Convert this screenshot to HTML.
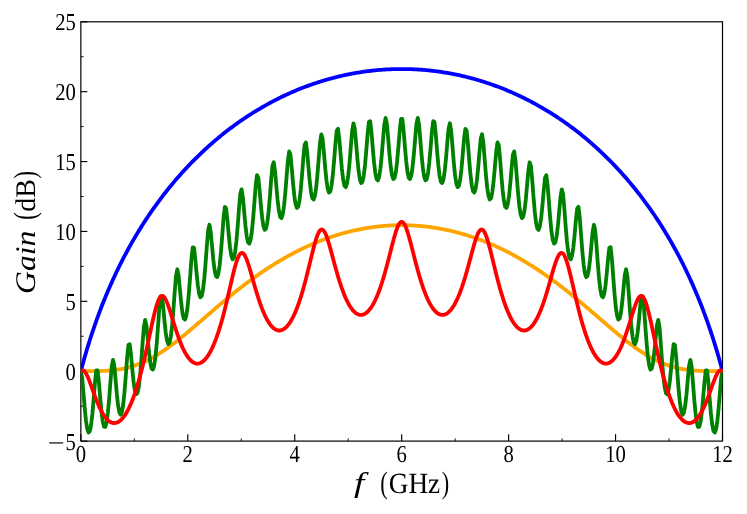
<!DOCTYPE html>
<html><head><meta charset="utf-8"><style>
html,body{margin:0;padding:0;background:#fff;}
body{width:747px;height:514px;overflow:hidden;}
svg{display:block;text-rendering:geometricPrecision;}
.tl{font-family:"Liberation Serif",serif;font-size:24.30px;fill:#000;}
.lab{font-family:"Liberation Serif",serif;font-size:28.40px;fill:#000;}
.tk{stroke:#000;stroke-width:1.15;}
.tm{stroke:#000;stroke-width:0.9;}
.c{fill:none;stroke-width:3.80px;stroke-linejoin:round;stroke-linecap:square;}
</style></head><body>
<svg width="747" height="514" viewBox="0 0 747 514">
<defs><clipPath id="ax"><rect x="80.85" y="21.80" width="641.65" height="419.30"/></clipPath></defs>
<line x1="80.85" y1="441.10" x2="80.85" y2="434.16" class="tk"/>
<line x1="187.79" y1="441.10" x2="187.79" y2="434.16" class="tk"/>
<line x1="294.73" y1="441.10" x2="294.73" y2="434.16" class="tk"/>
<line x1="401.67" y1="441.10" x2="401.67" y2="434.16" class="tk"/>
<line x1="508.62" y1="441.10" x2="508.62" y2="434.16" class="tk"/>
<line x1="615.56" y1="441.10" x2="615.56" y2="434.16" class="tk"/>
<line x1="722.50" y1="441.10" x2="722.50" y2="434.16" class="tk"/>
<line x1="134.32" y1="441.10" x2="134.32" y2="438.32" class="tm"/>
<line x1="241.26" y1="441.10" x2="241.26" y2="438.32" class="tm"/>
<line x1="348.20" y1="441.10" x2="348.20" y2="438.32" class="tm"/>
<line x1="455.15" y1="441.10" x2="455.15" y2="438.32" class="tm"/>
<line x1="562.09" y1="441.10" x2="562.09" y2="438.32" class="tm"/>
<line x1="669.03" y1="441.10" x2="669.03" y2="438.32" class="tm"/>
<line x1="80.85" y1="441.10" x2="87.34" y2="441.10" class="tk"/>
<line x1="80.85" y1="371.22" x2="87.34" y2="371.22" class="tk"/>
<line x1="80.85" y1="301.33" x2="87.34" y2="301.33" class="tk"/>
<line x1="80.85" y1="231.45" x2="87.34" y2="231.45" class="tk"/>
<line x1="80.85" y1="161.57" x2="87.34" y2="161.57" class="tk"/>
<line x1="80.85" y1="91.68" x2="87.34" y2="91.68" class="tk"/>
<line x1="80.85" y1="21.80" x2="87.34" y2="21.80" class="tk"/>
<line x1="80.85" y1="406.16" x2="83.63" y2="406.16" class="tm"/>
<line x1="80.85" y1="336.28" x2="83.63" y2="336.28" class="tm"/>
<line x1="80.85" y1="266.39" x2="83.63" y2="266.39" class="tm"/>
<line x1="80.85" y1="196.51" x2="83.63" y2="196.51" class="tm"/>
<line x1="80.85" y1="126.62" x2="83.63" y2="126.62" class="tm"/>
<line x1="80.85" y1="56.74" x2="83.63" y2="56.74" class="tm"/>
<rect x="80.85" y="21.80" width="641.65" height="419.30" fill="none" stroke="#000" stroke-width="1.20"/>
<g clip-path="url(#ax)">
<path class="c" stroke="#0000ff" d="M80.85,371.22 L82.14,366.37 L83.42,361.66 L84.71,357.09 L85.99,352.65 L87.28,348.33 L88.57,344.11 L89.85,340.01 L91.14,336.00 L92.42,332.09 L93.71,328.28 L94.99,324.54 L96.28,320.89 L97.57,317.32 L98.85,313.83 L100.14,310.41 L101.42,307.05 L102.71,303.76 L104.00,300.54 L105.28,297.38 L106.57,294.27 L107.85,291.22 L109.14,288.23 L110.43,285.29 L111.71,282.40 L113.00,279.56 L114.28,276.76 L115.57,274.02 L116.85,271.31 L118.14,268.65 L119.43,266.03 L120.71,263.45 L122.00,260.92 L123.28,258.41 L124.57,255.95 L125.86,253.52 L127.14,251.13 L128.43,248.77 L129.71,246.45 L131.00,244.15 L132.28,241.89 L133.57,239.66 L134.86,237.46 L136.14,235.29 L137.43,233.14 L138.71,231.03 L140.00,228.94 L141.29,226.88 L142.57,224.84 L143.86,222.84 L145.14,220.85 L146.43,218.89 L147.72,216.95 L149.00,215.04 L150.29,213.15 L151.57,211.29 L152.86,209.44 L154.14,207.62 L155.43,205.82 L156.72,204.04 L158.00,202.27 L159.29,200.53 L160.57,198.81 L161.86,197.11 L163.15,195.43 L164.43,193.77 L165.72,192.12 L167.00,190.50 L168.29,188.89 L169.58,187.30 L170.86,185.73 L172.15,184.17 L173.43,182.63 L174.72,181.11 L176.00,179.60 L177.29,178.11 L178.58,176.63 L179.86,175.18 L181.15,173.73 L182.43,172.30 L183.72,170.89 L185.01,169.49 L186.29,168.11 L187.58,166.74 L188.86,165.38 L190.15,164.04 L191.43,162.71 L192.72,161.40 L194.01,160.10 L195.29,158.81 L196.58,157.54 L197.86,156.28 L199.15,155.03 L200.44,153.79 L201.72,152.57 L203.01,151.36 L204.29,150.16 L205.58,148.98 L206.87,147.80 L208.15,146.64 L209.44,145.49 L210.72,144.35 L212.01,143.23 L213.29,142.11 L214.58,141.01 L215.87,139.91 L217.15,138.83 L218.44,137.76 L219.72,136.70 L221.01,135.65 L222.30,134.61 L223.58,133.59 L224.87,132.57 L226.15,131.56 L227.44,130.56 L228.73,129.58 L230.01,128.60 L231.30,127.64 L232.58,126.68 L233.87,125.73 L235.15,124.80 L236.44,123.87 L237.73,122.95 L239.01,122.05 L240.30,121.15 L241.58,120.26 L242.87,119.38 L244.16,118.51 L245.44,117.65 L246.73,116.80 L248.01,115.95 L249.30,115.12 L250.59,114.30 L251.87,113.48 L253.16,112.67 L254.44,111.88 L255.73,111.09 L257.01,110.31 L258.30,109.53 L259.59,108.77 L260.87,108.01 L262.16,107.27 L263.44,106.53 L264.73,105.80 L266.02,105.08 L267.30,104.36 L268.59,103.66 L269.87,102.96 L271.16,102.27 L272.44,101.59 L273.73,100.92 L275.02,100.25 L276.30,99.60 L277.59,98.95 L278.87,98.31 L280.16,97.67 L281.45,97.05 L282.73,96.43 L284.02,95.82 L285.30,95.21 L286.59,94.62 L287.88,94.03 L289.16,93.45 L290.45,92.88 L291.73,92.31 L293.02,91.75 L294.30,91.20 L295.59,90.66 L296.88,90.12 L298.16,89.60 L299.45,89.07 L300.73,88.56 L302.02,88.05 L303.31,87.55 L304.59,87.06 L305.88,86.58 L307.16,86.10 L308.45,85.63 L309.74,85.16 L311.02,84.70 L312.31,84.25 L313.59,83.81 L314.88,83.37 L316.16,82.94 L317.45,82.52 L318.74,82.11 L320.02,81.70 L321.31,81.29 L322.59,80.90 L323.88,80.51 L325.17,80.13 L326.45,79.75 L327.74,79.39 L329.02,79.02 L330.31,78.67 L331.59,78.32 L332.88,77.98 L334.17,77.64 L335.45,77.32 L336.74,76.99 L338.02,76.68 L339.31,76.37 L340.60,76.07 L341.88,75.77 L343.17,75.48 L344.45,75.20 L345.74,74.92 L347.03,74.65 L348.31,74.39 L349.60,74.13 L350.88,73.88 L352.17,73.64 L353.45,73.40 L354.74,73.17 L356.03,72.95 L357.31,72.73 L358.60,72.51 L359.88,72.31 L361.17,72.11 L362.46,71.92 L363.74,71.73 L365.03,71.55 L366.31,71.38 L367.60,71.21 L368.89,71.05 L370.17,70.89 L371.46,70.74 L372.74,70.60 L374.03,70.46 L375.31,70.33 L376.60,70.21 L377.89,70.09 L379.17,69.98 L380.46,69.87 L381.74,69.77 L383.03,69.68 L384.32,69.59 L385.60,69.51 L386.89,69.44 L388.17,69.37 L389.46,69.31 L390.75,69.25 L392.03,69.20 L393.32,69.16 L394.60,69.12 L395.89,69.09 L397.17,69.07 L398.46,69.05 L399.75,69.04 L401.03,69.03 L402.32,69.03 L403.60,69.04 L404.89,69.05 L406.18,69.07 L407.46,69.09 L408.75,69.12 L410.03,69.16 L411.32,69.20 L412.60,69.25 L413.89,69.31 L415.18,69.37 L416.46,69.44 L417.75,69.51 L419.03,69.59 L420.32,69.68 L421.61,69.77 L422.89,69.87 L424.18,69.98 L425.46,70.09 L426.75,70.21 L428.04,70.33 L429.32,70.46 L430.61,70.60 L431.89,70.74 L433.18,70.89 L434.46,71.05 L435.75,71.21 L437.04,71.38 L438.32,71.55 L439.61,71.73 L440.89,71.92 L442.18,72.11 L443.47,72.31 L444.75,72.51 L446.04,72.73 L447.32,72.95 L448.61,73.17 L449.90,73.40 L451.18,73.64 L452.47,73.88 L453.75,74.13 L455.04,74.39 L456.32,74.65 L457.61,74.92 L458.90,75.20 L460.18,75.48 L461.47,75.77 L462.75,76.07 L464.04,76.37 L465.33,76.68 L466.61,76.99 L467.90,77.32 L469.18,77.64 L470.47,77.98 L471.76,78.32 L473.04,78.67 L474.33,79.02 L475.61,79.39 L476.90,79.75 L478.18,80.13 L479.47,80.51 L480.76,80.90 L482.04,81.29 L483.33,81.70 L484.61,82.11 L485.90,82.52 L487.19,82.94 L488.47,83.37 L489.76,83.81 L491.04,84.25 L492.33,84.70 L493.61,85.16 L494.90,85.63 L496.19,86.10 L497.47,86.58 L498.76,87.06 L500.04,87.55 L501.33,88.05 L502.62,88.56 L503.90,89.07 L505.19,89.60 L506.47,90.12 L507.76,90.66 L509.05,91.20 L510.33,91.75 L511.62,92.31 L512.90,92.88 L514.19,93.45 L515.47,94.03 L516.76,94.62 L518.05,95.21 L519.33,95.82 L520.62,96.43 L521.90,97.05 L523.19,97.67 L524.48,98.31 L525.76,98.95 L527.05,99.60 L528.33,100.25 L529.62,100.92 L530.91,101.59 L532.19,102.27 L533.48,102.96 L534.76,103.66 L536.05,104.36 L537.33,105.08 L538.62,105.80 L539.91,106.53 L541.19,107.27 L542.48,108.01 L543.76,108.77 L545.05,109.53 L546.34,110.31 L547.62,111.09 L548.91,111.88 L550.19,112.67 L551.48,113.48 L552.76,114.30 L554.05,115.12 L555.34,115.95 L556.62,116.80 L557.91,117.65 L559.19,118.51 L560.48,119.38 L561.77,120.26 L563.05,121.15 L564.34,122.05 L565.62,122.95 L566.91,123.87 L568.20,124.80 L569.48,125.73 L570.77,126.68 L572.05,127.64 L573.34,128.60 L574.62,129.58 L575.91,130.56 L577.20,131.56 L578.48,132.57 L579.77,133.59 L581.05,134.61 L582.34,135.65 L583.63,136.70 L584.91,137.76 L586.20,138.83 L587.48,139.91 L588.77,141.01 L590.06,142.11 L591.34,143.23 L592.63,144.35 L593.91,145.49 L595.20,146.64 L596.48,147.80 L597.77,148.98 L599.06,150.16 L600.34,151.36 L601.63,152.57 L602.91,153.79 L604.20,155.03 L605.49,156.28 L606.77,157.54 L608.06,158.81 L609.34,160.10 L610.63,161.40 L611.92,162.71 L613.20,164.04 L614.49,165.38 L615.77,166.74 L617.06,168.11 L618.34,169.49 L619.63,170.89 L620.92,172.30 L622.20,173.73 L623.49,175.18 L624.77,176.63 L626.06,178.11 L627.35,179.60 L628.63,181.11 L629.92,182.63 L631.20,184.17 L632.49,185.73 L633.77,187.30 L635.06,188.89 L636.35,190.50 L637.63,192.12 L638.92,193.77 L640.20,195.43 L641.49,197.11 L642.78,198.81 L644.06,200.53 L645.35,202.27 L646.63,204.04 L647.92,205.82 L649.21,207.62 L650.49,209.44 L651.78,211.29 L653.06,213.15 L654.35,215.04 L655.63,216.95 L656.92,218.89 L658.21,220.85 L659.49,222.84 L660.78,224.84 L662.06,226.88 L663.35,228.94 L664.64,231.03 L665.92,233.14 L667.21,235.29 L668.49,237.46 L669.78,239.66 L671.07,241.89 L672.35,244.15 L673.64,246.45 L674.92,248.77 L676.21,251.13 L677.49,253.52 L678.78,255.95 L680.07,258.41 L681.35,260.92 L682.64,263.45 L683.92,266.03 L685.21,268.65 L686.50,271.31 L687.78,274.02 L689.07,276.76 L690.35,279.56 L691.64,282.40 L692.92,285.29 L694.21,288.23 L695.50,291.22 L696.78,294.27 L698.07,297.38 L699.35,300.54 L700.64,303.76 L701.93,307.05 L703.21,310.41 L704.50,313.83 L705.78,317.32 L707.07,320.89 L708.36,324.54 L709.64,328.28 L710.93,332.09 L712.21,336.00 L713.50,340.01 L714.78,344.11 L716.07,348.33 L717.36,352.65 L718.64,357.09 L719.93,361.66 L721.21,366.37 L722.50,371.22"/>
<path class="c" stroke="#ffa500" d="M80.85,371.22 L82.14,371.22 L83.42,371.22 L84.71,371.22 L85.99,371.22 L87.28,371.22 L88.57,371.21 L89.85,371.21 L91.14,371.20 L92.42,371.19 L93.71,371.18 L94.99,371.16 L96.28,371.14 L97.57,371.11 L98.85,371.08 L100.14,371.04 L101.42,370.99 L102.71,370.93 L104.00,370.87 L105.28,370.80 L106.57,370.72 L107.85,370.63 L109.14,370.53 L110.43,370.41 L111.71,370.29 L113.00,370.15 L114.28,370.00 L115.57,369.84 L116.85,369.66 L118.14,369.47 L119.43,369.26 L120.71,369.04 L122.00,368.80 L123.28,368.54 L124.57,368.27 L125.86,367.97 L127.14,367.66 L128.43,367.34 L129.71,366.99 L131.00,366.63 L132.28,366.24 L133.57,365.84 L134.86,365.41 L136.14,364.97 L137.43,364.50 L138.71,364.02 L140.00,363.51 L141.29,362.98 L142.57,362.44 L143.86,361.87 L145.14,361.28 L146.43,360.67 L147.72,360.04 L149.00,359.40 L150.29,358.73 L151.57,358.04 L152.86,357.33 L154.14,356.60 L155.43,355.85 L156.72,355.09 L158.00,354.30 L159.29,353.50 L160.57,352.68 L161.86,351.84 L163.15,350.99 L164.43,350.12 L165.72,349.23 L167.00,348.33 L168.29,347.42 L169.58,346.49 L170.86,345.54 L172.15,344.59 L173.43,343.62 L174.72,342.64 L176.00,341.64 L177.29,340.64 L178.58,339.63 L179.86,338.60 L181.15,337.57 L182.43,336.53 L183.72,335.48 L185.01,334.42 L186.29,333.35 L187.58,332.28 L188.86,331.20 L190.15,330.12 L191.43,329.03 L192.72,327.94 L194.01,326.85 L195.29,325.75 L196.58,324.64 L197.86,323.54 L199.15,322.43 L200.44,321.32 L201.72,320.21 L203.01,319.10 L204.29,317.99 L205.58,316.88 L206.87,315.77 L208.15,314.66 L209.44,313.55 L210.72,312.44 L212.01,311.34 L213.29,310.23 L214.58,309.13 L215.87,308.03 L217.15,306.94 L218.44,305.85 L219.72,304.76 L221.01,303.67 L222.30,302.59 L223.58,301.52 L224.87,300.44 L226.15,299.38 L227.44,298.31 L228.73,297.26 L230.01,296.20 L231.30,295.16 L232.58,294.12 L233.87,293.08 L235.15,292.05 L236.44,291.03 L237.73,290.01 L239.01,289.00 L240.30,288.00 L241.58,287.00 L242.87,286.01 L244.16,285.03 L245.44,284.05 L246.73,283.08 L248.01,282.12 L249.30,281.17 L250.59,280.22 L251.87,279.28 L253.16,278.35 L254.44,277.42 L255.73,276.50 L257.01,275.59 L258.30,274.69 L259.59,273.80 L260.87,272.91 L262.16,272.03 L263.44,271.16 L264.73,270.30 L266.02,269.44 L267.30,268.60 L268.59,267.76 L269.87,266.93 L271.16,266.11 L272.44,265.29 L273.73,264.49 L275.02,263.69 L276.30,262.90 L277.59,262.12 L278.87,261.35 L280.16,260.58 L281.45,259.82 L282.73,259.08 L284.02,258.34 L285.30,257.61 L286.59,256.88 L287.88,256.17 L289.16,255.46 L290.45,254.76 L291.73,254.07 L293.02,253.39 L294.30,252.72 L295.59,252.06 L296.88,251.40 L298.16,250.75 L299.45,250.11 L300.73,249.48 L302.02,248.86 L303.31,248.24 L304.59,247.64 L305.88,247.04 L307.16,246.45 L308.45,245.87 L309.74,245.29 L311.02,244.73 L312.31,244.17 L313.59,243.62 L314.88,243.08 L316.16,242.55 L317.45,242.03 L318.74,241.51 L320.02,241.01 L321.31,240.51 L322.59,240.02 L323.88,239.53 L325.17,239.06 L326.45,238.59 L327.74,238.14 L329.02,237.69 L330.31,237.24 L331.59,236.81 L332.88,236.38 L334.17,235.97 L335.45,235.56 L336.74,235.16 L338.02,234.76 L339.31,234.38 L340.60,234.00 L341.88,233.63 L343.17,233.27 L344.45,232.92 L345.74,232.57 L347.03,232.23 L348.31,231.91 L349.60,231.58 L350.88,231.27 L352.17,230.97 L353.45,230.67 L354.74,230.38 L356.03,230.10 L357.31,229.82 L358.60,229.56 L359.88,229.30 L361.17,229.05 L362.46,228.81 L363.74,228.58 L365.03,228.35 L366.31,228.13 L367.60,227.92 L368.89,227.72 L370.17,227.52 L371.46,227.34 L372.74,227.16 L374.03,226.99 L375.31,226.82 L376.60,226.67 L377.89,226.52 L379.17,226.38 L380.46,226.25 L381.74,226.12 L383.03,226.01 L384.32,225.90 L385.60,225.80 L386.89,225.70 L388.17,225.62 L389.46,225.54 L390.75,225.47 L392.03,225.41 L393.32,225.35 L394.60,225.31 L395.89,225.27 L397.17,225.24 L398.46,225.22 L399.75,225.20 L401.03,225.19 L402.32,225.19 L403.60,225.20 L404.89,225.22 L406.18,225.24 L407.46,225.27 L408.75,225.31 L410.03,225.35 L411.32,225.41 L412.60,225.47 L413.89,225.54 L415.18,225.62 L416.46,225.70 L417.75,225.80 L419.03,225.90 L420.32,226.01 L421.61,226.12 L422.89,226.25 L424.18,226.38 L425.46,226.52 L426.75,226.67 L428.04,226.82 L429.32,226.99 L430.61,227.16 L431.89,227.34 L433.18,227.52 L434.46,227.72 L435.75,227.92 L437.04,228.13 L438.32,228.35 L439.61,228.58 L440.89,228.81 L442.18,229.05 L443.47,229.30 L444.75,229.56 L446.04,229.82 L447.32,230.10 L448.61,230.38 L449.90,230.67 L451.18,230.97 L452.47,231.27 L453.75,231.58 L455.04,231.91 L456.32,232.23 L457.61,232.57 L458.90,232.92 L460.18,233.27 L461.47,233.63 L462.75,234.00 L464.04,234.38 L465.33,234.76 L466.61,235.16 L467.90,235.56 L469.18,235.97 L470.47,236.38 L471.76,236.81 L473.04,237.24 L474.33,237.69 L475.61,238.14 L476.90,238.59 L478.18,239.06 L479.47,239.53 L480.76,240.02 L482.04,240.51 L483.33,241.01 L484.61,241.51 L485.90,242.03 L487.19,242.55 L488.47,243.08 L489.76,243.62 L491.04,244.17 L492.33,244.73 L493.61,245.29 L494.90,245.87 L496.19,246.45 L497.47,247.04 L498.76,247.64 L500.04,248.24 L501.33,248.86 L502.62,249.48 L503.90,250.11 L505.19,250.75 L506.47,251.40 L507.76,252.06 L509.05,252.72 L510.33,253.39 L511.62,254.07 L512.90,254.76 L514.19,255.46 L515.47,256.17 L516.76,256.88 L518.05,257.61 L519.33,258.34 L520.62,259.08 L521.90,259.82 L523.19,260.58 L524.48,261.35 L525.76,262.12 L527.05,262.90 L528.33,263.69 L529.62,264.49 L530.91,265.29 L532.19,266.11 L533.48,266.93 L534.76,267.76 L536.05,268.60 L537.33,269.44 L538.62,270.30 L539.91,271.16 L541.19,272.03 L542.48,272.91 L543.76,273.80 L545.05,274.69 L546.34,275.59 L547.62,276.50 L548.91,277.42 L550.19,278.35 L551.48,279.28 L552.76,280.22 L554.05,281.17 L555.34,282.12 L556.62,283.08 L557.91,284.05 L559.19,285.03 L560.48,286.01 L561.77,287.00 L563.05,288.00 L564.34,289.00 L565.62,290.01 L566.91,291.03 L568.20,292.05 L569.48,293.08 L570.77,294.12 L572.05,295.16 L573.34,296.20 L574.62,297.26 L575.91,298.31 L577.20,299.38 L578.48,300.44 L579.77,301.52 L581.05,302.59 L582.34,303.67 L583.63,304.76 L584.91,305.85 L586.20,306.94 L587.48,308.03 L588.77,309.13 L590.06,310.23 L591.34,311.34 L592.63,312.44 L593.91,313.55 L595.20,314.66 L596.48,315.77 L597.77,316.88 L599.06,317.99 L600.34,319.10 L601.63,320.21 L602.91,321.32 L604.20,322.43 L605.49,323.54 L606.77,324.64 L608.06,325.75 L609.34,326.85 L610.63,327.94 L611.92,329.03 L613.20,330.12 L614.49,331.20 L615.77,332.28 L617.06,333.35 L618.34,334.42 L619.63,335.48 L620.92,336.53 L622.20,337.57 L623.49,338.60 L624.77,339.63 L626.06,340.64 L627.35,341.64 L628.63,342.64 L629.92,343.62 L631.20,344.59 L632.49,345.54 L633.77,346.49 L635.06,347.42 L636.35,348.33 L637.63,349.23 L638.92,350.12 L640.20,350.99 L641.49,351.84 L642.78,352.68 L644.06,353.50 L645.35,354.30 L646.63,355.09 L647.92,355.85 L649.21,356.60 L650.49,357.33 L651.78,358.04 L653.06,358.73 L654.35,359.40 L655.63,360.04 L656.92,360.67 L658.21,361.28 L659.49,361.87 L660.78,362.44 L662.06,362.98 L663.35,363.51 L664.64,364.02 L665.92,364.50 L667.21,364.97 L668.49,365.41 L669.78,365.84 L671.07,366.24 L672.35,366.63 L673.64,366.99 L674.92,367.34 L676.21,367.66 L677.49,367.97 L678.78,368.27 L680.07,368.54 L681.35,368.80 L682.64,369.04 L683.92,369.26 L685.21,369.47 L686.50,369.66 L687.78,369.84 L689.07,370.00 L690.35,370.15 L691.64,370.29 L692.92,370.41 L694.21,370.53 L695.50,370.63 L696.78,370.72 L698.07,370.80 L699.35,370.87 L700.64,370.93 L701.93,370.99 L703.21,371.04 L704.50,371.08 L705.78,371.11 L707.07,371.14 L708.36,371.16 L709.64,371.18 L710.93,371.19 L712.21,371.20 L713.50,371.21 L714.78,371.21 L716.07,371.22 L717.36,371.22 L718.64,371.22 L719.93,371.22 L721.21,371.22 L722.50,371.22"/>
<path class="c" stroke="#008000" d="M80.85,371.22 L82.14,377.54 L83.42,392.19 L84.71,407.97 L85.99,420.78 L87.28,429.12 L88.57,432.59 L89.85,431.10 L91.14,424.67 L92.42,413.50 L93.71,398.43 L94.99,382.08 L96.28,370.43 L97.57,370.35 L98.85,381.61 L100.14,397.17 L101.42,411.26 L102.71,421.35 L104.00,426.67 L105.28,427.02 L106.57,422.40 L107.85,412.89 L109.14,398.93 L110.43,382.09 L111.71,366.66 L113.00,359.88 L114.28,365.77 L115.57,379.57 L116.85,394.18 L118.14,405.67 L119.43,412.63 L120.71,414.69 L122.00,411.77 L123.28,403.89 L124.57,391.29 L125.86,374.85 L127.14,357.35 L128.43,344.91 L129.71,344.25 L131.00,354.65 L132.28,369.00 L133.57,381.69 L134.86,390.34 L136.14,394.22 L137.43,393.16 L138.71,387.16 L140.00,376.31 L141.29,361.07 L142.57,343.15 L143.86,326.97 L145.14,319.83 L146.43,325.35 L147.72,338.43 L149.00,352.09 L150.29,362.56 L151.57,368.52 L152.86,369.61 L154.14,365.77 L155.43,357.03 L156.72,343.64 L158.00,326.54 L159.29,308.65 L160.57,296.24 L161.86,295.83 L163.15,306.24 L164.43,320.27 L165.72,332.51 L167.00,340.69 L168.29,344.13 L169.58,342.66 L170.86,336.29 L172.15,325.11 L173.43,309.63 L174.72,291.64 L176.00,275.75 L177.29,269.26 L178.58,275.38 L179.86,288.69 L181.15,302.34 L182.43,312.72 L183.72,318.57 L185.01,319.58 L186.29,315.67 L187.58,306.90 L188.86,293.51 L190.15,276.51 L191.43,258.98 L192.72,247.31 L194.01,247.81 L195.29,258.85 L196.58,273.16 L197.86,285.52 L199.15,293.77 L200.44,297.27 L201.72,295.88 L203.01,289.59 L204.29,278.51 L205.58,263.20 L206.87,245.52 L208.15,230.28 L209.44,224.78 L210.72,231.77 L212.01,245.58 L213.29,259.47 L214.58,270.00 L215.87,275.97 L217.15,277.09 L218.44,273.31 L219.72,264.66 L221.01,251.43 L222.30,234.68 L223.58,217.64 L224.87,206.84 L226.15,208.36 L227.44,220.09 L228.73,234.75 L230.01,247.29 L231.30,255.67 L232.58,259.29 L233.87,258.01 L235.15,251.84 L236.44,240.90 L237.73,225.77 L239.01,208.44 L240.30,193.88 L241.58,189.37 L242.87,197.23 L244.16,211.52 L245.44,225.64 L246.73,236.29 L248.01,242.37 L249.30,243.59 L250.59,239.90 L251.87,231.36 L253.16,218.25 L254.44,201.74 L255.73,185.17 L257.01,175.23 L258.30,177.71 L259.59,190.08 L260.87,205.05 L262.16,217.73 L263.44,226.20 L264.73,229.89 L266.02,228.69 L267.30,222.60 L268.59,211.74 L269.87,196.76 L271.16,179.74 L272.44,165.83 L273.73,162.27 L275.02,170.94 L276.30,185.65 L277.59,199.94 L278.87,210.68 L280.16,216.81 L281.45,218.09 L282.73,214.45 L284.02,205.97 L285.30,192.95 L286.59,176.63 L287.88,160.51 L289.16,151.39 L290.45,154.79 L291.73,167.73 L293.02,182.94 L294.30,195.72 L295.59,204.24 L296.88,207.97 L298.16,206.80 L299.45,200.73 L300.73,189.93 L302.02,175.06 L303.31,158.32 L304.59,145.03 L305.88,142.39 L307.16,151.81 L308.45,166.88 L309.74,181.30 L311.02,192.09 L312.31,198.24 L313.59,199.53 L314.88,195.91 L316.16,187.45 L317.45,174.49 L318.74,158.32 L320.02,142.63 L321.31,134.31 L322.59,138.59 L323.88,152.06 L325.17,167.47 L326.45,180.31 L327.74,188.84 L329.02,192.57 L330.31,191.40 L331.59,185.34 L332.88,174.56 L334.17,159.76 L335.45,143.29 L336.74,130.62 L338.02,128.87 L339.31,138.99 L340.60,154.39 L341.88,168.91 L343.17,179.71 L344.45,185.86 L345.74,187.13 L347.03,183.51 L348.31,175.04 L349.60,162.11 L350.88,146.09 L352.17,130.82 L353.45,123.30 L354.74,128.41 L356.03,142.36 L357.31,157.95 L358.60,170.83 L359.88,179.35 L361.17,183.06 L362.46,181.87 L363.74,175.80 L365.03,165.01 L366.31,150.29 L367.60,134.07 L368.89,122.02 L370.17,121.15 L371.46,131.93 L372.74,147.62 L374.03,162.22 L375.31,173.02 L376.60,179.15 L377.89,180.40 L379.17,176.74 L380.46,168.26 L381.74,155.35 L383.03,139.47 L384.32,124.62 L385.60,117.89 L386.89,123.82 L388.17,138.23 L389.46,153.97 L390.75,166.87 L392.03,175.37 L393.32,179.06 L394.60,177.84 L395.89,171.74 L397.17,160.95 L398.46,146.28 L399.75,130.32 L401.03,118.89 L402.32,118.89 L403.60,130.32 L404.89,146.28 L406.18,160.95 L407.46,171.74 L408.75,177.84 L410.03,179.06 L411.32,175.37 L412.60,166.87 L413.89,153.97 L415.18,138.23 L416.46,123.82 L417.75,117.89 L419.03,124.62 L420.32,139.47 L421.61,155.35 L422.89,168.26 L424.18,176.74 L425.46,180.40 L426.75,179.15 L428.04,173.02 L429.32,162.22 L430.61,147.62 L431.89,131.93 L433.18,121.15 L434.46,122.02 L435.75,134.07 L437.04,150.29 L438.32,165.01 L439.61,175.80 L440.89,181.87 L442.18,183.06 L443.47,179.35 L444.75,170.83 L446.04,157.95 L447.32,142.36 L448.61,128.41 L449.90,123.30 L451.18,130.82 L452.47,146.09 L453.75,162.11 L455.04,175.04 L456.32,183.51 L457.61,187.13 L458.90,185.86 L460.18,179.71 L461.47,168.91 L462.75,154.39 L464.04,138.99 L465.33,128.87 L466.61,130.62 L467.90,143.29 L469.18,159.76 L470.47,174.56 L471.76,185.34 L473.04,191.40 L474.33,192.57 L475.61,188.84 L476.90,180.31 L478.18,167.47 L479.47,152.06 L480.76,138.59 L482.04,134.31 L483.33,142.63 L484.61,158.32 L485.90,174.49 L487.19,187.45 L488.47,195.91 L489.76,199.53 L491.04,198.24 L492.33,192.09 L493.61,181.30 L494.90,166.88 L496.19,151.81 L497.47,142.39 L498.76,145.03 L500.04,158.32 L501.33,175.06 L502.62,189.93 L503.90,200.73 L505.19,206.80 L506.47,207.97 L507.76,204.24 L509.05,195.72 L510.33,182.94 L511.62,167.73 L512.90,154.79 L514.19,151.39 L515.47,160.51 L516.76,176.63 L518.05,192.95 L519.33,205.97 L520.62,214.45 L521.90,218.09 L523.19,216.81 L524.48,210.68 L525.76,199.94 L527.05,185.65 L528.33,170.94 L529.62,162.27 L530.91,165.83 L532.19,179.74 L533.48,196.76 L534.76,211.74 L536.05,222.60 L537.33,228.69 L538.62,229.89 L539.91,226.20 L541.19,217.73 L542.48,205.05 L543.76,190.08 L545.05,177.71 L546.34,175.23 L547.62,185.17 L548.91,201.74 L550.19,218.25 L551.48,231.36 L552.76,239.90 L554.05,243.59 L555.34,242.37 L556.62,236.29 L557.91,225.64 L559.19,211.52 L560.48,197.23 L561.77,189.37 L563.05,193.88 L564.34,208.44 L565.62,225.77 L566.91,240.90 L568.20,251.84 L569.48,258.01 L570.77,259.29 L572.05,255.67 L573.34,247.29 L574.62,234.75 L575.91,220.09 L577.20,208.36 L578.48,206.84 L579.77,217.64 L581.05,234.68 L582.34,251.43 L583.63,264.66 L584.91,273.31 L586.20,277.09 L587.48,275.97 L588.77,270.00 L590.06,259.47 L591.34,245.58 L592.63,231.77 L593.91,224.78 L595.20,230.28 L596.48,245.52 L597.77,263.20 L599.06,278.51 L600.34,289.59 L601.63,295.88 L602.91,297.27 L604.20,293.77 L605.49,285.52 L606.77,273.16 L608.06,258.85 L609.34,247.81 L610.63,247.31 L611.92,258.98 L613.20,276.51 L614.49,293.51 L615.77,306.90 L617.06,315.67 L618.34,319.58 L619.63,318.57 L620.92,312.72 L622.20,302.34 L623.49,288.69 L624.77,275.38 L626.06,269.26 L627.35,275.75 L628.63,291.64 L629.92,309.63 L631.20,325.11 L632.49,336.29 L633.77,342.66 L635.06,344.13 L636.35,340.69 L637.63,332.51 L638.92,320.27 L640.20,306.24 L641.49,295.83 L642.78,296.24 L644.06,308.65 L645.35,326.54 L646.63,343.64 L647.92,357.03 L649.21,365.77 L650.49,369.61 L651.78,368.52 L653.06,362.56 L654.35,352.09 L655.63,338.43 L656.92,325.35 L658.21,319.83 L659.49,326.97 L660.78,343.15 L662.06,361.07 L663.35,376.31 L664.64,387.16 L665.92,393.16 L667.21,394.22 L668.49,390.34 L669.78,381.69 L671.07,369.00 L672.35,354.65 L673.64,344.25 L674.92,344.91 L676.21,357.35 L677.49,374.85 L678.78,391.29 L680.07,403.89 L681.35,411.77 L682.64,414.69 L683.92,412.63 L685.21,405.67 L686.50,394.18 L687.78,379.57 L689.07,365.77 L690.35,359.88 L691.64,366.66 L692.92,382.09 L694.21,398.93 L695.50,412.89 L696.78,422.40 L698.07,427.02 L699.35,426.67 L700.64,421.35 L701.93,411.26 L703.21,397.17 L704.50,381.61 L705.78,370.35 L707.07,370.43 L708.36,382.08 L709.64,398.43 L710.93,413.50 L712.21,424.67 L713.50,431.10 L714.78,432.59 L716.07,429.12 L717.36,420.78 L718.64,407.97 L719.93,392.19 L721.21,377.54 L722.50,371.22"/>
<path class="c" stroke="#ff0000" d="M80.85,371.22 L82.14,370.31 L83.42,370.43 L84.71,371.49 L85.99,373.35 L87.28,375.85 L88.57,378.84 L89.85,382.16 L91.14,385.67 L92.42,389.26 L93.71,392.84 L94.99,396.34 L96.28,399.70 L97.57,402.89 L98.85,405.88 L100.14,408.65 L101.42,411.19 L102.71,413.48 L104.00,415.53 L105.28,417.34 L106.57,418.89 L107.85,420.20 L109.14,421.26 L110.43,422.08 L111.71,422.66 L113.00,423.00 L114.28,423.11 L115.57,422.98 L116.85,422.62 L118.14,422.03 L119.43,421.21 L120.71,420.16 L122.00,418.88 L123.28,417.38 L124.57,415.64 L125.86,413.68 L127.14,411.48 L128.43,409.05 L129.71,406.38 L131.00,403.48 L132.28,400.34 L133.57,396.95 L134.86,393.33 L136.14,389.45 L137.43,385.33 L138.71,380.96 L140.00,376.34 L141.29,371.48 L142.57,366.39 L143.86,361.07 L145.14,355.54 L146.43,349.82 L147.72,343.96 L149.00,338.00 L150.29,332.00 L151.57,326.04 L152.86,320.24 L154.14,314.71 L155.43,309.61 L156.72,305.10 L158.00,301.35 L159.29,298.49 L160.57,296.65 L161.86,295.88 L163.15,296.16 L164.43,297.44 L165.72,299.58 L167.00,302.44 L168.29,305.84 L169.58,309.63 L170.86,313.67 L172.15,317.83 L173.43,322.01 L174.72,326.13 L176.00,330.14 L177.29,333.99 L178.58,337.64 L179.86,341.08 L181.15,344.29 L182.43,347.25 L183.72,349.97 L185.01,352.44 L186.29,354.66 L187.58,356.63 L188.86,358.35 L190.15,359.82 L191.43,361.05 L192.72,362.03 L194.01,362.77 L195.29,363.28 L196.58,363.54 L197.86,363.58 L199.15,363.38 L200.44,362.94 L201.72,362.27 L203.01,361.37 L204.29,360.23 L205.58,358.86 L206.87,357.26 L208.15,355.41 L209.44,353.33 L210.72,351.01 L212.01,348.44 L213.29,345.63 L214.58,342.57 L215.87,339.26 L217.15,335.70 L218.44,331.88 L219.72,327.81 L221.01,323.50 L222.30,318.94 L223.58,314.14 L224.87,309.12 L226.15,303.91 L227.44,298.52 L228.73,293.02 L230.01,287.44 L231.30,281.87 L232.58,276.40 L233.87,271.16 L235.15,266.29 L236.44,261.94 L237.73,258.28 L239.01,255.46 L240.30,253.63 L241.58,252.84 L242.87,253.13 L244.16,254.43 L245.44,256.66 L246.73,259.65 L248.01,263.26 L249.30,267.30 L250.59,271.64 L251.87,276.14 L253.16,280.70 L254.44,285.22 L255.73,289.64 L257.01,293.91 L258.30,298.00 L259.59,301.87 L260.87,305.52 L262.16,308.92 L263.44,312.08 L264.73,314.99 L266.02,317.64 L267.30,320.04 L268.59,322.18 L269.87,324.08 L271.16,325.72 L272.44,327.13 L273.73,328.28 L275.02,329.20 L276.30,329.87 L277.59,330.31 L278.87,330.51 L280.16,330.48 L281.45,330.21 L282.73,329.70 L284.02,328.96 L285.30,327.98 L286.59,326.77 L287.88,325.32 L289.16,323.63 L290.45,321.69 L291.73,319.51 L293.02,317.09 L294.30,314.41 L295.59,311.49 L296.88,308.31 L298.16,304.88 L299.45,301.19 L300.73,297.25 L302.02,293.07 L303.31,288.64 L304.59,283.99 L305.88,279.12 L307.16,274.07 L308.45,268.88 L309.74,263.60 L311.02,258.29 L312.31,253.04 L313.59,247.97 L314.88,243.21 L316.16,238.91 L317.45,235.24 L318.74,232.36 L320.02,230.42 L321.31,229.50 L322.59,229.66 L323.88,230.86 L325.17,233.03 L326.45,236.03 L327.74,239.69 L329.02,243.86 L330.31,248.38 L331.59,253.10 L332.88,257.92 L334.17,262.73 L335.45,267.46 L336.74,272.05 L338.02,276.48 L339.31,280.70 L340.60,284.69 L341.88,288.45 L343.17,291.96 L344.45,295.22 L345.74,298.23 L347.03,300.98 L348.31,303.47 L349.60,305.72 L350.88,307.72 L352.17,309.46 L353.45,310.97 L354.74,312.23 L356.03,313.25 L357.31,314.03 L358.60,314.57 L359.88,314.87 L361.17,314.94 L362.46,314.78 L363.74,314.38 L365.03,313.74 L366.31,312.87 L367.60,311.75 L368.89,310.40 L370.17,308.81 L371.46,306.97 L372.74,304.88 L374.03,302.55 L375.31,299.97 L376.60,297.13 L377.89,294.04 L379.17,290.70 L380.46,287.10 L381.74,283.25 L383.03,279.16 L384.32,274.84 L385.60,270.29 L386.89,265.56 L388.17,260.66 L389.46,255.65 L390.75,250.58 L392.03,245.54 L393.32,240.64 L394.60,235.99 L395.89,231.74 L397.17,228.06 L398.46,225.11 L399.75,223.04 L401.03,221.98 L402.32,221.98 L403.60,223.04 L404.89,225.11 L406.18,228.06 L407.46,231.74 L408.75,235.99 L410.03,240.64 L411.32,245.54 L412.60,250.58 L413.89,255.65 L415.18,260.66 L416.46,265.56 L417.75,270.29 L419.03,274.84 L420.32,279.16 L421.61,283.25 L422.89,287.10 L424.18,290.70 L425.46,294.04 L426.75,297.13 L428.04,299.97 L429.32,302.55 L430.61,304.88 L431.89,306.97 L433.18,308.81 L434.46,310.40 L435.75,311.75 L437.04,312.87 L438.32,313.74 L439.61,314.38 L440.89,314.78 L442.18,314.94 L443.47,314.87 L444.75,314.57 L446.04,314.03 L447.32,313.25 L448.61,312.23 L449.90,310.97 L451.18,309.46 L452.47,307.72 L453.75,305.72 L455.04,303.47 L456.32,300.98 L457.61,298.23 L458.90,295.22 L460.18,291.96 L461.47,288.45 L462.75,284.69 L464.04,280.70 L465.33,276.48 L466.61,272.05 L467.90,267.46 L469.18,262.73 L470.47,257.92 L471.76,253.10 L473.04,248.38 L474.33,243.86 L475.61,239.69 L476.90,236.03 L478.18,233.03 L479.47,230.86 L480.76,229.66 L482.04,229.50 L483.33,230.42 L484.61,232.36 L485.90,235.24 L487.19,238.91 L488.47,243.21 L489.76,247.97 L491.04,253.04 L492.33,258.29 L493.61,263.60 L494.90,268.88 L496.19,274.07 L497.47,279.12 L498.76,283.99 L500.04,288.64 L501.33,293.07 L502.62,297.25 L503.90,301.19 L505.19,304.88 L506.47,308.31 L507.76,311.49 L509.05,314.41 L510.33,317.09 L511.62,319.51 L512.90,321.69 L514.19,323.63 L515.47,325.32 L516.76,326.77 L518.05,327.98 L519.33,328.96 L520.62,329.70 L521.90,330.21 L523.19,330.48 L524.48,330.51 L525.76,330.31 L527.05,329.87 L528.33,329.20 L529.62,328.28 L530.91,327.13 L532.19,325.72 L533.48,324.08 L534.76,322.18 L536.05,320.04 L537.33,317.64 L538.62,314.99 L539.91,312.08 L541.19,308.92 L542.48,305.52 L543.76,301.87 L545.05,298.00 L546.34,293.91 L547.62,289.64 L548.91,285.22 L550.19,280.70 L551.48,276.14 L552.76,271.64 L554.05,267.30 L555.34,263.26 L556.62,259.65 L557.91,256.66 L559.19,254.43 L560.48,253.13 L561.77,252.84 L563.05,253.63 L564.34,255.46 L565.62,258.28 L566.91,261.94 L568.20,266.29 L569.48,271.16 L570.77,276.40 L572.05,281.87 L573.34,287.44 L574.62,293.02 L575.91,298.52 L577.20,303.91 L578.48,309.12 L579.77,314.14 L581.05,318.94 L582.34,323.50 L583.63,327.81 L584.91,331.88 L586.20,335.70 L587.48,339.26 L588.77,342.57 L590.06,345.63 L591.34,348.44 L592.63,351.01 L593.91,353.33 L595.20,355.41 L596.48,357.26 L597.77,358.86 L599.06,360.23 L600.34,361.37 L601.63,362.27 L602.91,362.94 L604.20,363.38 L605.49,363.58 L606.77,363.54 L608.06,363.28 L609.34,362.77 L610.63,362.03 L611.92,361.05 L613.20,359.82 L614.49,358.35 L615.77,356.63 L617.06,354.66 L618.34,352.44 L619.63,349.97 L620.92,347.25 L622.20,344.29 L623.49,341.08 L624.77,337.64 L626.06,333.99 L627.35,330.14 L628.63,326.13 L629.92,322.01 L631.20,317.83 L632.49,313.67 L633.77,309.63 L635.06,305.84 L636.35,302.44 L637.63,299.58 L638.92,297.44 L640.20,296.16 L641.49,295.88 L642.78,296.65 L644.06,298.49 L645.35,301.35 L646.63,305.10 L647.92,309.61 L649.21,314.71 L650.49,320.24 L651.78,326.04 L653.06,332.00 L654.35,338.00 L655.63,343.96 L656.92,349.82 L658.21,355.54 L659.49,361.07 L660.78,366.39 L662.06,371.48 L663.35,376.34 L664.64,380.96 L665.92,385.33 L667.21,389.45 L668.49,393.33 L669.78,396.95 L671.07,400.34 L672.35,403.48 L673.64,406.38 L674.92,409.05 L676.21,411.48 L677.49,413.68 L678.78,415.64 L680.07,417.38 L681.35,418.88 L682.64,420.16 L683.92,421.21 L685.21,422.03 L686.50,422.62 L687.78,422.98 L689.07,423.11 L690.35,423.00 L691.64,422.66 L692.92,422.08 L694.21,421.26 L695.50,420.20 L696.78,418.89 L698.07,417.34 L699.35,415.53 L700.64,413.48 L701.93,411.19 L703.21,408.65 L704.50,405.88 L705.78,402.89 L707.07,399.70 L708.36,396.34 L709.64,392.84 L710.93,389.26 L712.21,385.67 L713.50,382.16 L714.78,378.84 L716.07,375.85 L717.36,373.35 L718.64,371.49 L719.93,370.43 L721.21,370.31 L722.50,371.22"/>
</g>
<text class="tl" text-anchor="middle" transform="translate(80.85,462.00) scale(0.850,1)">0</text>
<text class="tl" text-anchor="middle" transform="translate(187.79,462.00) scale(0.850,1)">2</text>
<text class="tl" text-anchor="middle" transform="translate(294.73,462.00) scale(0.850,1)">4</text>
<text class="tl" text-anchor="middle" transform="translate(401.67,462.00) scale(0.850,1)">6</text>
<text class="tl" text-anchor="middle" transform="translate(508.62,462.00) scale(0.850,1)">8</text>
<text class="tl" text-anchor="middle" transform="translate(615.56,462.00) scale(0.850,1)">10</text>
<text class="tl" text-anchor="middle" transform="translate(722.50,462.00) scale(0.850,1)">12</text>
<text class="tl" text-anchor="end" transform="translate(75.90,379.62) scale(0.850,1)">0</text>
<text class="tl" text-anchor="end" transform="translate(75.90,309.73) scale(0.850,1)">5</text>
<text class="tl" text-anchor="end" transform="translate(75.90,239.85) scale(0.850,1)">10</text>
<text class="tl" text-anchor="end" transform="translate(75.90,169.97) scale(0.850,1)">15</text>
<text class="tl" text-anchor="end" transform="translate(75.90,100.08) scale(0.850,1)">20</text>
<text class="tl" text-anchor="end" transform="translate(75.90,30.20) scale(0.850,1)">25</text>
<text class="tl" text-anchor="end" transform="translate(75.90,449.50) scale(0.850,1)"><tspan dy="1.80" textLength="19.83" lengthAdjust="spacingAndGlyphs">&#8722;</tspan><tspan dx="1.00" dy="-1.80">5</tspan></text>
<text class="lab" font-style="italic" style="font-size:28.40px" transform="translate(353.94,492.40) scale(1.318,1)">f</text>
<text class="lab" style="font-size:31.00px" transform="translate(380.27,492.75) scale(0.720,1)">(</text>
<text class="lab" style="font-size:29.30px" transform="translate(388.73,492.75) scale(0.930,1)">GHz</text>
<text class="lab" style="font-size:31.00px" transform="translate(441.64,492.75) scale(0.720,1)">)</text>
<g transform="translate(35.20,0) rotate(-90)">
<text class="lab" font-style="italic" style="font-size:28.40px" transform="translate(-293.89,0.00) scale(1.114,1)">Gain</text>
<text class="lab" style="font-size:31.00px" transform="translate(-219.83,0.00) scale(0.720,1)">(</text>
<text class="lab" style="font-size:28.40px" transform="translate(-211.76,0.00) scale(0.987,1)">dB</text>
<text class="lab" style="font-size:31.00px" transform="translate(-178.46,0.00) scale(0.720,1)">)</text>
</g>
</svg>
</body></html>
